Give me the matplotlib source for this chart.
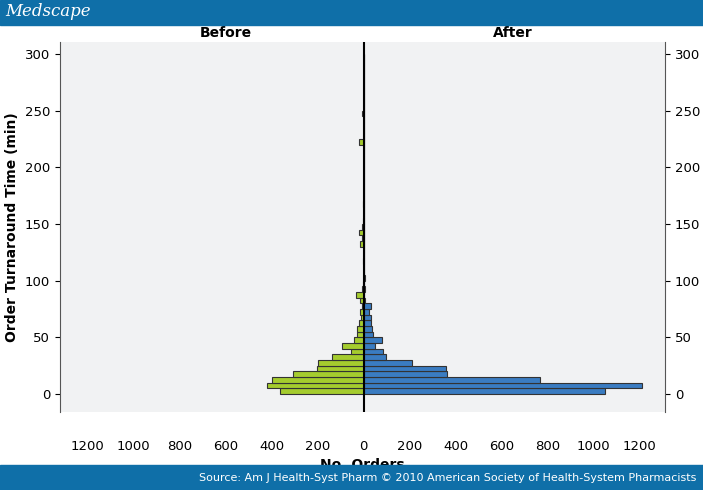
import numpy as np
import matplotlib.pyplot as plt
from matplotlib.ticker import FuncFormatter

# 5-minute bins, lower edges 0..295
bin_edges = np.arange(0, 300, 5)
before = np.zeros(60)
after = np.zeros(60)
before_vals = {0: 364, 1: 419, 2: 397, 3: 306, 4: 204, 5: 199, 6: 136, 7: 54, 8: 96, 9: 42,
               10: 30, 11: 28, 12: 22, 13: 12, 14: 14, 15: 8, 16: 14, 17: 35, 18: 8, 19: 4,
               23: 4, 26: 18, 27: 8, 28: 22, 29: 8, 30: 4, 33: 4, 44: 20, 49: 8}
after_vals = {0: 1048, 1: 1212, 2: 766, 3: 364, 4: 360, 5: 212, 6: 99, 7: 83, 8: 51, 9: 81,
              10: 40, 11: 35, 12: 30, 13: 30, 14: 25, 15: 30, 16: 5, 17: 3, 18: 8, 19: 3, 20: 4}
for k, v in before_vals.items():
    before[k] = v
for k, v in after_vals.items():
    after[k] = v

blue_bar = '#0f6fa8'
fig = plt.figure(figsize=(7.03, 4.90), dpi=100)
fig.patches.append(plt.Rectangle((0, 465 / 490), 1, 25 / 490, transform=fig.transFigure,
                                 color=blue_bar, zorder=0))
fig.patches.append(plt.Rectangle((0, 0), 1, 25 / 490, transform=fig.transFigure,
                                 color=blue_bar, zorder=0))
fig.text(0.008, 1 - 12 / 490, 'Medscape', color='white', fontsize=12, family='DejaVu Serif',
         style='italic', va='center')
fig.text(0.99, 12 / 490, 'Source: Am J Health-Syst Pharm \u00a9 2010 American Society of Health-System Pharmacists',
         color='white', fontsize=8, ha='right', va='center')

ax = fig.add_axes([60 / 703, 1 - 412 / 490, 605 / 703, 370 / 490])
ax.set_facecolor('#f1f2f3')
ax.barh(bin_edges, -before, height=5, align='edge', color='#a5cc2e', edgecolor='#333333', linewidth=0.8)
ax.barh(bin_edges, after, height=5, align='edge', color='#3a7cc1', edgecolor='#333333', linewidth=0.8)
ax.axvline(0, color='black', lw=1.5)
ax.set_xlim(-1320, 1310)
ax.set_ylim(-16, 310.6)
ax.set_xticks(np.arange(-1200, 1201, 200))
ax.xaxis.set_major_formatter(FuncFormatter(lambda v, p: f'{abs(int(v))}'))
ax.set_yticks(np.arange(0, 301, 50))
ax.tick_params(axis='x', length=0, pad=20, labelsize=9.5)
ax.tick_params(axis='y', labelsize=9.5, right=True, labelright=True, direction='out')
for s in ax.spines.values():
    s.set_visible(False)
ax.spines['left'].set_visible(True)
ax.spines['right'].set_visible(True)
ax.spines['left'].set_color('#555555')
ax.spines['right'].set_color('#555555')
ax.set_xlabel('No. Orders', fontweight='bold', fontsize=10, labelpad=4)
ax.set_ylabel('Order Turnaround Time (min)', fontweight='bold', fontsize=10)
ax.text(-600, 1.005, 'Before', transform=ax.get_xaxis_transform(), ha='center', va='bottom',
        fontweight='bold', fontsize=10)
ax.text(650, 1.005, 'After', transform=ax.get_xaxis_transform(), ha='center', va='bottom',
        fontweight='bold', fontsize=10)
fig.savefig('out.png', dpi=100)
